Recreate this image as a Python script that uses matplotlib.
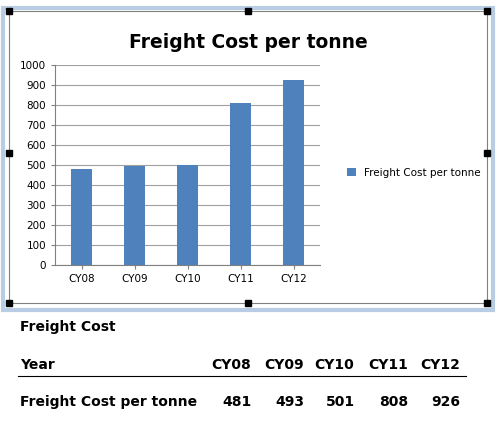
import matplotlib
matplotlib.use("Agg")
import matplotlib.pyplot as plt
from matplotlib.patches import Rectangle

categories = ["CY08", "CY09", "CY10", "CY11", "CY12"]
values = [481, 493, 501, 808, 926]
series_name = "Freight Cost per tonne"

W, H = 500, 421
fig = plt.figure(figsize=(5, 4.21), dpi=100)
fig.patch.set_facecolor("white")

def fx(x): return x / W
def fy(y): return 1 - y / H

# chart frame
fig.patches.append(Rectangle((fx(3), fy(310)), fx(490), 302/H, transform=fig.transFigure,
                             facecolor="none", edgecolor="#b8cce4", lw=3))
fig.patches.append(Rectangle((fx(9), fy(303)), fx(478), 292/H, transform=fig.transFigure,
                             facecolor="none", edgecolor="#808080", lw=0.8))
for (hx, hy) in [(9, 11), (248, 11), (487, 11), (9, 153), (487, 153), (9, 303), (248, 303), (487, 303)]:
    fig.patches.append(Rectangle((fx(hx - 3), fy(hy + 3)), 6/W, 6/H, transform=fig.transFigure,
                                 facecolor="black", edgecolor="black"))

ax = fig.add_axes([fx(55), fy(265), fx(320) - fx(55), fy(65) - fy(265)])
ax.bar(categories, values, width=0.4, color="#4f81bd", label=series_name, zorder=3)
ax.set_ylim(0, 1000)
ax.set_yticks(range(0, 1001, 100))
ax.grid(axis="y", color="#a0a0a0", lw=0.8, zorder=0)
for s in ["top", "right"]:
    ax.spines[s].set_visible(False)
ax.spines["left"].set_color("#808080")
ax.spines["bottom"].set_color("#808080")
ax.tick_params(labelsize=7.5, length=3, color="#808080")
ax.set_xlim(-0.5, 4.5)

fig.text(fx(248), fy(42), "Freight Cost per tonne", ha="center", va="center",
         fontsize=13.5, fontweight="bold")
fig.legend(loc="center left", bbox_to_anchor=(fx(338), fy(173)), frameon=False,
           fontsize=7.5, handlelength=0.8, handleheight=0.8)

fig.text(fx(20), fy(327), "Freight Cost", fontsize=10, fontweight="bold", va="center")
fig.text(fx(20), fy(365), "Year", fontsize=10, fontweight="bold", va="center")
fig.text(fx(20), fy(402), series_name, fontsize=10, fontweight="bold", va="center")
xs = [231, 284, 334, 388, 440]
for x, c, v in zip(xs, categories, values):
    fig.text(fx(x), fy(365), c, fontsize=10, fontweight="bold", ha="center", va="center")
    fig.text(fx(x + 6), fy(402), str(v), fontsize=10, fontweight="bold", ha="center", va="center")
fig.add_artist(plt.Line2D([fx(18), fx(466)], [fy(376), fy(376)], color="black", lw=0.8))

fig.savefig("out.png", dpi=100)
